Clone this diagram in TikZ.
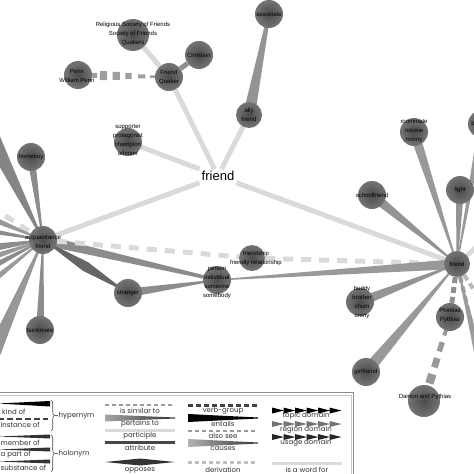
\documentclass[tikz,border=0pt]{standalone}
\usepackage{fontspec}
\setmainfont{Liberation Sans}
\newfontfamily\legfont{Poppins}
\usetikzlibrary{calc,backgrounds,decorations.pathreplacing}
\definecolor{lightedge}{HTML}{DADADA}
\definecolor{midedge}{HTML}{8E8E8E}
\definecolor{darkedge}{HTML}{666666}
\definecolor{balldark}{HTML}{4C4C4C}
\definecolor{balllight}{HTML}{747474}
\tikzset{
  ball/.style={circle, minimum size=28pt, inner sep=0pt, shading=radial, inner color=balldark, outer color=balllight},
  bigball/.style={ball, minimum size=32pt},
  lbl/.style={font=\fontsize{6}{9}\selectfont, align=center, inner sep=0pt, text=black},
  lightline/.style={draw=lightedge, line width=5pt},
  lightdash/.style={draw=lightedge, line width=5pt, dash pattern=on 10pt off 8pt},
  darkdash/.style={draw=midedge, line width=5pt, dash pattern=on 6pt off 4pt},
  legtxt/.style={font=\legfont\fontsize{7}{8}\selectfont, inner sep=0pt, text=black!80},
}
\newcommand{\wedgeE}[5]{%
  \fill[#5] ($(#1)!#3!90:(#2)$) -- ($(#2)!#4!-90:(#1)$) -- ($(#2)!#4!90:(#1)$) -- ($(#1)!#3!-90:(#2)$) -- cycle;}
\begin{document}
\begin{tikzpicture}[x=1pt,y=-1pt]
\useasboundingbox (0,0) rectangle (474,474);
% ---------- balls ----------
\node[bigball] (rsf) at (133,35) {};
\node[ball] (christian) at (199,55) {};
\node[ball] (quaker) at (169,77) {};
\node[ball] (penn) at (78,75) {};
\node[ball] (supp) at (128,142) {};
\node[ball] (homeboy) at (31,157) {};
\node[ball] (acq) at (43,240) {};
\node[ball] (bunk) at (40,330) {};
\node[ball] (stranger) at (128,293) {};
\node[ball] (person) at (217,280) {};
\node[ball, minimum size=26pt] (fship) at (252,258) {};
\node[ball, minimum size=26pt] (ally) at (249,115) {};
\node[ball] (assoc) at (269,14) {};
\node[ball] (school) at (372,195) {};
\node[ball] (room) at (414,132) {};
\node[ball] (light) at (460,190) {};
\node[ball] (bed) at (482,124) {};
\node[ball, minimum size=26pt] (hub) at (457,264) {};
\node[ball] (buddy) at (360,302) {};
\node[ball] (phint) at (450,317) {};
\node[ball] (girl) at (366,372) {};
\node[bigball] (damon) at (424,401) {};
\node[font=\fontsize{13}{15}\selectfont, inner sep=2pt] (friend) at (218,176) {friend};
% ---------- free ends ----------
\coordinate (L1) at (-8,138);
\coordinate (L2) at (-10,206);
\coordinate (L3) at (-10,218);
\coordinate (L4) at (-10,231);
\coordinate (L5) at (-10,248);
\coordinate (L6) at (-10,258);
\coordinate (L7) at (-10,268);
\coordinate (L8) at (-10,283);
\coordinate (L9) at (-6,352);
\coordinate (L10) at (10,318);
\coordinate (R1) at (492,234);
\coordinate (R2) at (480,362);
\coordinate (R3) at (476,342);
\coordinate (R4) at (492,318);
% ---------- edges ----------
\begin{scope}[on background layer]
  \draw[lightline] (friend) -- (quaker);
  \draw[lightline] (friend) -- (ally);
  \draw[lightline] (friend) -- (supp);
  \draw[lightline] (friend) -- (acq);
  \draw[lightline] (friend) -- (hub);
  \draw[lightline] (quaker) -- (rsf);
  \draw[draw=midedge, line width=5pt] (quaker) -- (christian);
  \foreach \a/\b/\w in {0.15/0.21/2.5,0.24/0.32/4.5,0.38/0.46/4,0.52/0.59/3,0.66/0.74/2,0.79/0.86/1.2}
    \fill[black!38] ($(penn)!\a!(quaker)!\w pt!90:(quaker)$) -- ($(penn)!\b!(quaker)!\w pt!90:(quaker)$) -- ($(penn)!\b!(quaker)!\w pt!-90:(quaker)$) -- ($(penn)!\a!(quaker)!\w pt!-90:(quaker)$) -- cycle;
  \draw[black!38, line width=1.2pt] ($(penn)!0.86!(quaker)$) -- (quaker);
  \wedgeE{ally}{assoc}{6pt}{1.5pt}{black!42}
  \wedgeE{homeboy}{acq}{4pt}{0.5pt}{black!45}
  \wedgeE{bunk}{acq}{4pt}{0.5pt}{black!45}
  \wedgeE{L1}{acq}{8pt}{0.5pt}{black!48}
  \draw[lightdash] (L2) -- (acq);
  \wedgeE{L3}{acq}{3pt}{0.5pt}{black!40}
  \wedgeE{L4}{acq}{2.5pt}{0.5pt}{black!45}
  \wedgeE{L5}{acq}{4pt}{0.5pt}{black!45}
  \wedgeE{L6}{acq}{3pt}{0.5pt}{black!40}
  \wedgeE{L7}{acq}{3pt}{0.5pt}{black!45}
  \wedgeE{L8}{acq}{3pt}{0.5pt}{black!40}
  \wedgeE{L9}{acq}{7pt}{0.5pt}{black!42}
  \wedgeE{L10}{acq}{3pt}{0.5pt}{black!40}
  \wedgeE{acq}{person}{5pt}{1.5pt}{black!45}
  \fill[darkedge] (acq.center) -- ($(acq)!0.5!(stranger)!5pt!90:(stranger)$) -- (stranger.center) -- ($(acq)!0.5!(stranger)!5pt!-90:(stranger)$) -- cycle;
  \wedgeE{stranger}{person}{4.5pt}{0.5pt}{black!45}
  \draw[lightdash] (acq) -- (fship);
  \draw[lightdash] (fship) -- (hub);
  \wedgeE{hub}{person}{5pt}{0.5pt}{black!40}
  \wedgeE{school}{hub}{5pt}{0.5pt}{black!42}
  \wedgeE{room}{hub}{5pt}{0.5pt}{black!40}
  \wedgeE{light}{hub}{4pt}{0.5pt}{black!42}
  \wedgeE{bed}{hub}{3.5pt}{0.5pt}{black!40}
  \wedgeE{buddy}{hub}{5pt}{0.5pt}{black!42}
  \wedgeE{girl}{hub}{6pt}{0.5pt}{black!40}
  \wedgeE{R1}{hub}{4pt}{1.5pt}{lightedge}
  \wedgeE{R2}{hub}{4pt}{0.5pt}{black!38}
  \draw[draw=black!40, line width=4pt, dash pattern=on 6pt off 4pt] (hub) -- (R3);
  \draw[draw=black!28, line width=4pt, dash pattern=on 6pt off 4pt] (hub) -- (R4);
  \draw[darkdash] (hub) -- (phint);
  \foreach \a/\b/\w in {0.12/0.22/2,0.3/0.41/2.7,0.49/0.6/3.4,0.68/0.79/4.2,0.86/0.97/5}
    \fill[black!40] ($(phint)!\a!(damon)!\w pt!90:(damon)$) -- ($(phint)!\b!(damon)!\w pt!90:(damon)$) -- ($(phint)!\b!(damon)!\w pt!-90:(damon)$) -- ($(phint)!\a!(damon)!\w pt!-90:(damon)$) -- cycle;
\end{scope}
% ---------- labels ----------
\node[lbl] (rsf-t) at (133,34) {Religious Society of Friends\\Society of Friends\\Quakers};
\node[lbl] (christian-t) at (199,55) {Christian};
\node[lbl] (quaker-t) at (169,77.5) {Friend\\Quaker};
\node[lbl] (penn-t) at (77,75.5) {Penn\\William Penn};
\node[lbl] (supp-t) at (128,140.5) {supporter\\protagonist\\champion\\admirer};
\node[lbl] (homeboy-t) at (31,157) {homeboy};
\node[lbl] (acq-t) at (43,241.5) {acquaintance\\friend};
\node[lbl] (bunk-t) at (40,330) {bunkmate};
\node[lbl] (stranger-t) at (128,293) {stranger};
\node[lbl] (person-t) at (217,283) {person\\individual\\someone\\somebody};
\node[lbl] (fship-t) at (256,258) {friendship\\friendly relationship};
\node[lbl] (ally-t) at (249,114.5) {ally\\friend};
\node[lbl] (assoc-t) at (269,14) {associate};
\node[lbl] (school-t) at (372,195) {schoolfriend};
\node[lbl] (room-t) at (414,131.5) {roommate\\roomie\\roomy};
\node[lbl] (light-t) at (460,190) {light};
\node[lbl] (bed-t) at (484,123) {bedfellow};
\node[lbl] (hub-t) at (457,264) {friend};
\node[lbl] (buddy-t) at (362,302.5) {buddy\\brother\\chum\\crony};
\node[lbl] (phint-t) at (450,315.5) {Phintias\\Pythias};
\node[lbl] (girl-t) at (366,372) {girlfriend};
\node[lbl] (damon-t) at (425,397) {Damon and Pythias};
% ---------- legend ----------
\fill[white] (-2,393) rectangle (354,476);
\draw[black!45, line width=1.2pt] (-2,392.5) -- (353.5,392.5) -- (353.5,476);
\draw[black!22, line width=0.8pt] (-2,395) -- (351,395) -- (351,476);
% column 1
\fill[black] (-2,403.5) -- (50,401) -- (50,406.5) -- cycle;
\node[legtxt, anchor=west] (l-kind) at (2,412) {kind of};
\draw[black!75, line width=2pt, dash pattern=on 6pt off 3pt] (-2,419) -- (48,419);
\node[legtxt, anchor=west] (l-inst) at (0.5,425) {instance of};
\fill[black!80] (-2,436.5) -- (50,434.5) -- (50,438.5) -- cycle;
\node[legtxt, anchor=west] (l-memb) at (0.5,443) {member of};
\fill[black!80] (-2,449.5) -- (50,447.5) -- (50,451.5) -- cycle;
\node[legtxt, anchor=west] (l-part) at (0.5,455) {a part of};
\fill[black!80] (-2,461.5) -- (50,459.5) -- (50,463.5) -- cycle;
\node[legtxt, anchor=west] (l-subs) at (0.5,467.5) {substance of};
\draw[black!70, line width=0.6pt, decorate, decoration={brace, amplitude=3.5pt}] (51,400) -- (51,431);
\draw[black!70, line width=0.6pt, decorate, decoration={brace, amplitude=3.5pt}] (51,435) -- (51,472);
\draw[black!60, line width=0.6pt] (55,415.5) -- (58,415.5);
\draw[black!60, line width=0.6pt] (55,453.5) -- (58,453.5);
\node[legtxt, anchor=west] (l-hyper) at (58.5,415.5) {hypernym};
\node[legtxt, anchor=west] (l-holo) at (58.5,453.5) {holonym};
% column 2
\draw[black!40, line width=2.5pt, dash pattern=on 4pt off 3pt] (105,405) -- (175,405);
\node[legtxt] (l-sim) at (140,411) {is similar to};
\shade[left color=black!35, right color=black!80] (105,414.5) -- (175,417.5) -- (175,418.5) -- (105,421.5) -- cycle;
\node[legtxt] (l-pert) at (140,424) {pertains to};
\draw[lightedge, line width=2.5pt] (105,430.5) -- (175,430.5);
\node[legtxt] (l-part2) at (140,436) {participle};
\draw[black!72, line width=3pt] (105,442) -- (175,442);
\node[legtxt] (l-attr) at (140,448) {attribute};
\fill[black!80] (105,462) -- (140,458.5) -- (175,462) -- (140,465.5) -- cycle;
\node[legtxt] (l-opp) at (140,470) {opposes};
% column 3
\draw[black!75, line width=3pt, dash pattern=on 5pt off 3pt] (188,405) -- (258,405);
\node[legtxt] (l-verb) at (223,411) {verb-group};
\fill[black] (188,414) -- (258,417.5) -- (258,418.5) -- (188,422) -- cycle;
\node[legtxt] (l-ent) at (223,424) {entails};
\draw[black!40, line width=2pt, dash pattern=on 4pt off 3pt] (188,430.5) -- (258,430.5);
\node[legtxt] (l-also) at (223,436) {also see};
\shade[left color=black!30, right color=black!80] (188,439) -- (258,442.5) -- (258,443.5) -- (188,447) -- cycle;
\node[legtxt] (l-cause) at (223,449) {causes};
\draw[black!25, line width=2.5pt, dash pattern=on 4pt off 3pt] (188,462.5) -- (258,462.5);
\node[legtxt] (l-deriv) at (223,470) {derivation};
% column 4
\foreach \i in {0,...,5} {
  \fill[black] ({272+11.5*\i},407.5) -- ({284+11.5*\i},410.5) -- ({272+11.5*\i},413.5) -- cycle;
  \fill[black!55] ({272+11.5*\i},421) -- ({284+11.5*\i},424) -- ({272+11.5*\i},427) -- cycle;
  \fill[black!85] ({272+11.5*\i},434) -- ({284+11.5*\i},437) -- ({272+11.5*\i},440) -- cycle;
}
\node[legtxt] (l-topic) at (306,416) {topic domain};
\node[legtxt] (l-region) at (306,429.5) {region domain};
\node[legtxt] (l-usage) at (306,443) {usage domain};
\draw[lightedge, line width=3pt] (272,463) -- (342,463);
\node[legtxt] (l-word) at (307,469.5) {is a word for};
\end{tikzpicture}
\end{document}
